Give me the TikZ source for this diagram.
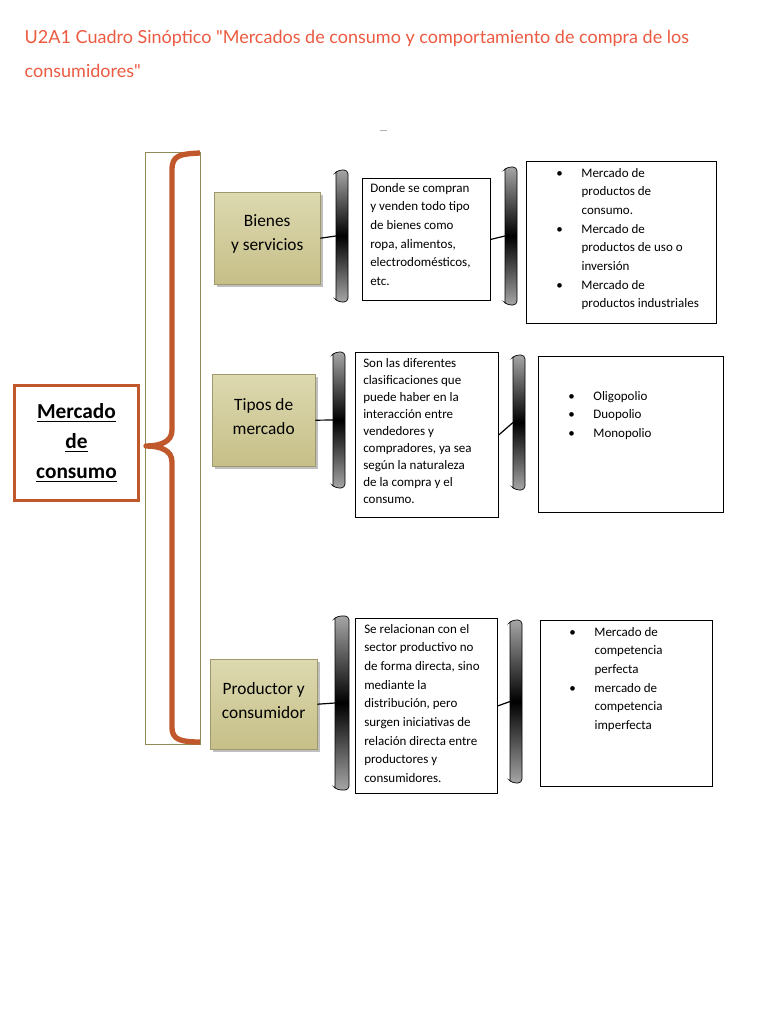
\documentclass[tikz,border=0pt]{standalone}
\usepackage{fontspec}
\setmainfont{Carlito}
\newfontfamily\titlefont{Lato}
\begin{document}
\begin{tikzpicture}[x=0.75pt,y=-0.75pt,
 olive/.style={draw=none,top color=olive!25!white!85!black!0,bottom color=olive!25!white,shade,align=center,font=\fontsize{13}{15.5}\selectfont},
 txt/.style={draw,line width=0.6pt,align=left,anchor=north west,inner sep=0pt},
 brk/.style={top color=gray!70,bottom color=gray!70,middle color=black,draw=black,line width=0.5pt,rounded corners=3pt},
 conn/.style={line width=0.9pt}]
\useasboundingbox (0,0) rectangle (768,1024);
\definecolor{ttl}{HTML}{EC5A41}
\definecolor{brc}{HTML}{C0582C}
\definecolor{olA}{HTML}{DDD9B0}
\definecolor{olB}{HTML}{C6BF88}
\node[anchor=west,text=ttl,font=\titlefont\fontsize{13.5}{16}\selectfont] (t1) at (20,38) {U2A1 Cuadro Sinóptico "Mercados de consumo y comportamiento de compra de los};
\node[anchor=west,text=ttl,font=\titlefont\fontsize{13.5}{16}\selectfont] (t2) at (20,71) {consumidores"};
\draw[gray!60] (380,130) -- (387,130);
% tall rectangle
\node[draw=olive!40!gray,line width=0.6pt,minimum width=41.25pt,minimum height=444pt,anchor=north west,inner sep=0] (tall) at (145,152) {};
% brace
\draw[brc,line width=4pt,line join=round] (200,153) .. controls (180,154) and (172,155) .. (172,170) -- (172,430) .. controls (172,442) and (160,446) .. (146,446) .. controls (160,446) and (172,450) .. (172,462) -- (172,728) .. controls (172,740) and (182,742) .. (200,742);
% main box
\node[draw=brc,line width=2.2pt,minimum width=93pt,minimum height=86pt,anchor=north west,inner sep=0] (main) at (13,384) {};
\node[align=center,font=\bfseries\fontsize{16}{22.5}\selectfont] at (main.center) {\underline{Mercado}\\\underline{de}\\\underline{consumo}};
% olive boxes
\foreach \n/\x/\y/\w/\h/\t in {b1/214/192/106/92/{Bienes\\y servicios}, b2/212/374/103/92/{Tipos de\\mercado}, b3/210/659/107/90/{Productor y\\consumidor}}{
 \fill[gray!50] (\x+3,\y+3) rectangle ++(\w,\h);
 \node[anchor=north west,minimum width=\w*0.75pt,minimum height=\h*0.75pt,inner sep=0,top color=olA,bottom color=olB,draw=olB!80!black,line width=0.3pt] (\n) at (\x,\y) {};
 \node[align=center,font=\fontsize{13}{18}\selectfont,yshift=3pt] at (\n.center) {\t};
}
% brackets
\foreach \n/\x/\y/\w/\h in {k1/336/170/12/132, k2/505/167/12/138, k3/333/352/12/136, k4/513/355/12/135, k5/335/616/14/174, k6/510/620/12/163}{
 \path[brk] (\x+\w,\y) -- (\x+2,\y) .. controls (\x,\y+2) .. (\x,\y+6) -- (\x,\y+\h-6) .. controls (\x,\y+\h-2) .. (\x+2,\y+\h) -- (\x+\w,\y+\h) -- cycle;
 \coordinate (\n) at (\x,\y+\h/2);
}
% text boxes
\node[txt,minimum width=96pt,minimum height=91.5pt] (d1) at (362,178) {};
\node[anchor=north west,align=left,font=\fontsize{9.75}{14}\selectfont,inner sep=0] at (370,183) {Donde se compran\\y venden todo tipo\\de bienes como\\ropa, alimentos,\\electrodomésticos,\\etc.};
\node[txt,minimum width=107.25pt,minimum height=123.75pt] (d2) at (355,352) {};
\node[anchor=north west,align=left,font=\fontsize{9.75}{12.8}\selectfont,inner sep=0] at (363,358) {Son las diferentes\\clasificaciones que\\puede haber en la\\interacción entre\\vendedores y\\compradores, ya sea\\según la naturaleza\\de la compra y el\\consumo.};
\node[txt,minimum width=106.5pt,minimum height=131.25pt] (d3) at (355,618) {};
\node[anchor=north west,align=left,font=\fontsize{9.75}{14}\selectfont,inner sep=0] at (364,624) {Se relacionan con el\\sector productivo no\\de forma directa, sino\\mediante la\\distribución, pero\\surgen iniciativas de\\relación directa entre\\productores y\\consumidores.};
\node[txt,minimum width=142.5pt,minimum height=121.5pt] (l1) at (526,161) {};
\node[txt,minimum width=138.75pt,minimum height=117pt] (l2) at (538,356) {};
\node[txt,minimum width=129pt,minimum height=124.5pt] (l3) at (540,620) {};
\node[anchor=north west,align=left,font=\fontsize{9.75}{14}\selectfont,inner sep=0] at (556,168) {\textbullet\hspace{14pt}Mercado de\\\hspace{19pt}productos de\\\hspace{19pt}consumo.\\\textbullet\hspace{14pt}Mercado de\\\hspace{19pt}productos de uso o\\\hspace{19pt}inversión\\\textbullet\hspace{14pt}Mercado de\\\hspace{19pt}productos industriales};
\node[anchor=north west,align=left,font=\fontsize{9.75}{14}\selectfont,inner sep=0] at (568,391) {\textbullet\hspace{14pt}Oligopolio\\\textbullet\hspace{14pt}Duopolio\\\textbullet\hspace{14pt}Monopolio};
\node[anchor=north west,align=left,font=\fontsize{9.75}{14}\selectfont,inner sep=0] at (569,627) {\textbullet\hspace{14pt}Mercado de\\\hspace{19pt}competencia\\\hspace{19pt}perfecta\\\textbullet\hspace{14pt}mercado de\\\hspace{19pt}competencia\\\hspace{19pt}imperfecta};
% connectors
\draw[conn] (b1.east) -- (k1);
\draw[conn] (d1.east) -- (k2);
\draw[conn] (b2.east) -- (k3);
\draw[conn] (d2.east) -- (k4);
\draw[conn] (b3.east) -- (k5);
\draw[conn] (d3.east) -- (k6);
\end{tikzpicture}
\end{document}
